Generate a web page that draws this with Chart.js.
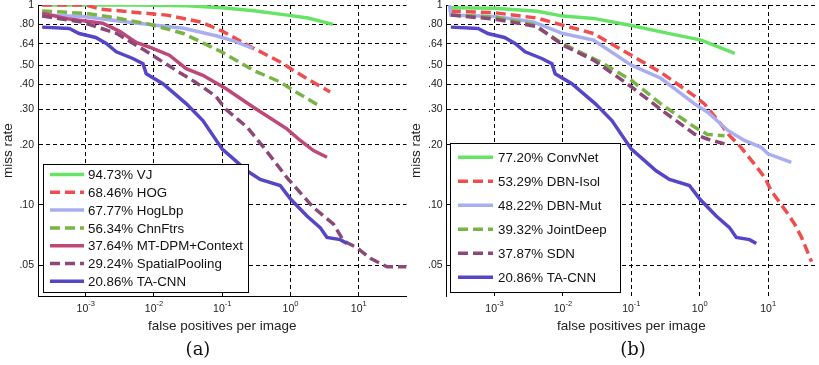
<!DOCTYPE html>
<html lang="en">
<head>
  <meta charset="UTF-8">
  <title>Miss rate vs false positives per image</title>
  <script src="https://cdn.jsdelivr.net/npm/chart.js"></script>
  <style>
    body {
      margin: 0;
      background: #fff;
      width: 819px;
      height: 365px;
      overflow: hidden;
      position: relative;
    }
    .panel {
      position: absolute;
      top: 0;
      height: 365px;
    }
    #panelA { left: 0; width: 410px; }
    #panelB { left: 408px; width: 411px; }
    .cap {
      position: absolute;
      top: 337px;
      width: 40px;
      line-height: 24px;
      text-align: center;
      font-family: "DejaVu Serif", serif;
      font-size: 18px;
      color: #111;
    }
  </style>
</head>
<body>

<div class="panel" id="panelA"><canvas id="chartA"></canvas></div>
<div class="panel" id="panelB"><canvas id="chartB"></canvas></div>
<div class="cap" style="left:178px">(a)</div>
<div class="cap" style="left:613px">(b)</div>

<script>
  // axis ticks
  const xTicks = [1e-3, 1e-2, 1e-1, 1, 10];
  const xTickExp = ["-3", "-2", "-1", "0", "1"];
  const yTicks = [0.05, 0.1, 0.2, 0.3, 0.4, 0.5, 0.64, 0.8, 1];
  const yTickLabels = [".05", ".10", ".20", ".30", ".40", ".50", ".64", ".80", "1"];

  // (a) legend names
  const namesA = ["94.73% VJ", "68.46% HOG", "67.77% HogLbp", "56.34% ChnFtrs",
                  "37.64% MT-DPM+Context", "29.24% SpatialPooling", "20.86% TA-CNN"];
  // (b) legend names
  const namesB = ["77.20% ConvNet", "53.29% DBN-Isol", "48.22% DBN-Mut",
                  "39.32% JointDeep", "37.87% SDN", "20.86% TA-CNN"];

  // curves, fppi and miss rate
  const vjFppi = [2.3e-4, 0.005, 0.03, 0.1, 0.29, 0.9, 1.8, 4.2];
  const vjMiss = [1.0, 1.0, 0.99, 0.97, 0.935, 0.89, 0.86, 0.80];

  const hogFppi = [2.3e-4, 1e-3, 1.6e-3, 5e-3, 0.0155, 0.03, 0.05, 0.1, 0.286, 0.706, 1.0, 1.74, 3.8];
  const hogMiss = [1.0, 1.0, 0.955, 0.92, 0.89, 0.85, 0.82, 0.74, 0.608, 0.519, 0.481, 0.428, 0.367];

  const hogLbpFppi = [2.3e-4, 9e-4, 5e-3, 0.027, 0.084, 0.15, 0.28];
  const hogLbpMiss = [0.89, 0.875, 0.815, 0.765, 0.70, 0.66, 0.606];

  const chnFppi = [2.3e-4, 1e-3, 2.85e-3, 8.8e-3, 0.027, 0.1, 0.286, 0.706, 1.1, 2.72];
  const chnMiss = [0.933, 0.908, 0.86, 0.80, 0.72, 0.58, 0.471, 0.412, 0.374, 0.311];

  const mtFppi = [2.3e-4, 5.7e-4, 1.77e-3, 3.1e-3, 5.5e-3, 9.6e-3, 0.0168, 0.0296, 0.052, 0.114, 0.286, 0.885, 1.39, 2.17, 3.42];
  const mtMiss = [0.91, 0.85, 0.81, 0.74, 0.65, 0.606, 0.561, 0.48, 0.445, 0.381, 0.308, 0.24, 0.21, 0.187, 0.173];

  const spFppi = [2.3e-4, 9e-4, 2.85e-3, 6.9e-3, 0.0236, 0.041, 0.08, 0.114, 0.23, 0.4, 0.885, 2.17, 4.27, 6.0, 9.4, 14.8, 25.9, 50];
  const spMiss = [0.88, 0.82, 0.72, 0.60, 0.46, 0.41, 0.35, 0.30, 0.245, 0.195, 0.137, 0.097, 0.08, 0.066, 0.061, 0.054, 0.049, 0.049];

  const taFppi = [2.3e-4, 5.75e-4, 8e-4, 1.4e-3, 2e-3, 2.8e-3, 4.9e-3, 6.9e-3, 7.7e-3, 0.0135, 0.0296, 0.052, 0.1, 0.146, 0.23, 0.36, 0.706, 1.0, 1.74, 2.72, 3.42, 5.36, 6.7];
  const taMiss = [0.775, 0.763, 0.72, 0.688, 0.642, 0.583, 0.54, 0.509, 0.453, 0.404, 0.321, 0.264, 0.19, 0.17, 0.148, 0.134, 0.125, 0.107, 0.088, 0.077, 0.0687, 0.067, 0.064];

  const convFppi = [2.3e-4, 1e-3, 4.2e-3, 0.01, 0.028, 0.1, 0.272, 1.05, 3.24];
  const convMiss = [0.97, 0.962, 0.93, 0.88, 0.857, 0.79, 0.734, 0.667, 0.572];

  const isolFppi = [2.3e-4, 1e-3, 4.2e-3, 9e-3, 0.028, 0.1, 0.27, 0.84, 1.17, 1.84, 2.6, 4.0, 6.3, 8.9, 11, 15.6, 19.5, 24.4, 30.6, 43];
  const isolMiss = [0.93, 0.915, 0.86, 0.80, 0.72, 0.56, 0.46, 0.35, 0.32, 0.265, 0.226, 0.194, 0.16, 0.137, 0.118, 0.10, 0.09, 0.08, 0.069, 0.052];

  const mutFppi = [2.2e-4, 2.3e-4, 1e-3, 3.6e-3, 0.01, 0.028, 0.1, 0.27, 0.84, 1.32, 2.6, 4.5, 7.9, 9.9, 21.8];
  const mutMiss = [1.0, 0.89, 0.875, 0.825, 0.72, 0.667, 0.50, 0.43, 0.32, 0.29, 0.235, 0.21, 0.194, 0.18, 0.163];

  const jdFppi = [2.3e-4, 1e-3, 3.6e-3, 0.01, 0.02, 0.035, 0.1, 0.27, 0.84, 1.3, 2.3];
  const jdMiss = [0.89, 0.87, 0.80, 0.64, 0.57, 0.52, 0.42, 0.32, 0.245, 0.225, 0.222];

  const sdnFppi = [2.3e-4, 1e-3, 4.2e-3, 0.01, 0.028, 0.1, 0.27, 0.84, 1.32, 2.3];
  const sdnMiss = [0.89, 0.85, 0.78, 0.63, 0.53, 0.39, 0.30, 0.226, 0.213, 0.202];

  // line styles
  const GREEN = "#66e466", RED = "#f04e4e", LAV = "#a9aef0", OLIVE = "#78b446";
  const ROSE = "#be4878", PURPLE = "#8c4878", BLUE = "#5546c8";
  const SANS = '"Liberation Sans", Arial, sans-serif';

  function makeSet(label, fppi, miss, color, dashed, i, n) {
    return {
      label,
      data: fppi.map((f, k) => ({ x: f, y: miss[k] })),
      borderColor: color,
      backgroundColor: color,
      borderWidth: 3.5,
      borderDash: dashed ? [10, 5] : [],
      pointRadius: 0,
      showLine: true,
      fill: false,
      tension: 0,
      order: n - i   // later curves on top
    };
  }

  // legend with a white box, drawn inside the plot
  const boxLegend = {
    id: "boxLegend",
    afterDatasetsDraw(chart, args, o) {
      const ctx = chart.ctx;
      ctx.save();
      ctx.fillStyle = "#fff";
      ctx.fillRect(o.left, o.top, o.width, o.height);
      ctx.strokeStyle = "#000";
      ctx.lineWidth = 1;
      ctx.strokeRect(o.left + 0.5, o.top + 0.5, o.width, o.height);
      ctx.font = o.font;
      ctx.textBaseline = "middle";
      chart.data.datasets.forEach((ds, i) => {
        const y = o.top + o.firstRow + i * o.rowGap;
        ctx.strokeStyle = ds.borderColor;
        ctx.lineWidth = ds.borderWidth;
        ctx.setLineDash(ds.borderDash);
        ctx.beginPath();
        ctx.moveTo(o.lineX0, y);
        ctx.lineTo(o.lineX1, y);
        ctx.stroke();
        ctx.setLineDash([]);
        ctx.fillStyle = "#111";
        ctx.fillText(ds.label, o.textX, y + 1);
      });
      ctx.restore();
    }
  };

  // x tick labels as 10 with a raised exponent
  const expTicks = {
    id: "expTicks",
    afterDraw(chart) {
      const sc = chart.scales.x, ctx = chart.ctx;
      ctx.save();
      ctx.fillStyle = "#222";
      ctx.textBaseline = "alphabetic";
      xTicks.forEach((v, i) => {
        const px = sc.getPixelForValue(v);
        const base = sc.top + 16;
        ctx.font = "10.5px " + SANS;
        const w1 = ctx.measureText("10").width;
        ctx.font = "7.5px " + SANS;
        const w2 = ctx.measureText(xTickExp[i]).width;
        const x0 = px - (w1 + w2) / 2;
        ctx.font = "10.5px " + SANS;
        ctx.fillText("10", x0, base);
        ctx.font = "7.5px " + SANS;
        ctx.fillText(xTickExp[i], x0 + w1, base - 6);
      });
      ctx.restore();
    }
  };

  function makeChart(id, datasets, yWidth, padRight, showBottom, legend) {
    new Chart(document.getElementById(id), {
      type: "scatter",
      data: { datasets },
      options: {
        responsive: true,
        maintainAspectRatio: false,
        animation: false,
        layout: { padding: { left: 0, top: 5, right: padRight, bottom: 30.5 } },
        plugins: {
          legend: { display: false },
          tooltip: { enabled: false },
          boxLegend: legend
        },
        scales: {
          x: {
            type: "logarithmic",
            min: 2e-4,
            max: 50,
            afterBuildTicks: s => { s.ticks = xTicks.map(v => ({ value: v })); },
            afterFit: s => { s.height = 38.5; s.paddingLeft = 0; s.paddingRight = 0; },
            ticks: { display: false, autoSkip: false },
            grid: { color: "#000", lineWidth: 1, drawTicks: false },
            border: { display: showBottom, color: "#000", width: 1, dash: [4, 3] },
            title: {
              display: true,
              text: "false positives per image",
              color: "#222",
              font: { family: SANS, size: 13.5 },
              padding: { top: 0, bottom: 0 }
            }
          },
          y: {
            type: "logarithmic",
            min: 0.035,
            max: 1,
            afterBuildTicks: s => { s.ticks = yTicks.map(v => ({ value: v })); },
            afterFit: s => { s.width = yWidth; s.paddingTop = 0; s.paddingBottom = 0; },
            ticks: {
              autoSkip: false,
              padding: 4,
              color: "#222",
              font: { family: SANS, size: 10.5 },
              callback: (v, i) => yTickLabels[i]
            },
            grid: { color: "#000", lineWidth: 1, drawTicks: false },
            border: { display: true, color: "#000", width: 1, dash: [4, 3] },
            title: {
              display: true,
              text: "miss rate",
              color: "#222",
              font: { family: SANS, size: 13.5 },
              padding: { top: 0, bottom: 0 }
            }
          }
        }
      },
      plugins: [boxLegend, expTicks]
    });
  }

  const setsA = [
    makeSet(namesA[0], vjFppi, vjMiss, GREEN, false, 0, 7),
    makeSet(namesA[1], hogFppi, hogMiss, RED, true, 1, 7),
    makeSet(namesA[2], hogLbpFppi, hogLbpMiss, LAV, false, 2, 7),
    makeSet(namesA[3], chnFppi, chnMiss, OLIVE, true, 3, 7),
    makeSet(namesA[4], mtFppi, mtMiss, ROSE, false, 4, 7),
    makeSet(namesA[5], spFppi, spMiss, PURPLE, true, 5, 7),
    makeSet(namesA[6], taFppi, taMiss, BLUE, false, 6, 7)
  ];

  const setsB = [
    makeSet(namesB[0], convFppi, convMiss, GREEN, false, 0, 6),
    makeSet(namesB[1], isolFppi, isolMiss, RED, true, 1, 6),
    makeSet(namesB[2], mutFppi, mutMiss, LAV, false, 2, 6),
    makeSet(namesB[3], jdFppi, jdMiss, OLIVE, true, 3, 6),
    makeSet(namesB[4], sdnFppi, sdnMiss, PURPLE, true, 4, 6),
    makeSet(namesB[5], taFppi, taMiss, BLUE, false, 5, 6)
  ];

  makeChart("chartA", setsA, 38, 3.5, true, {
    left: 43, top: 164, width: 205, height: 128,
    firstRow: 10.5, rowGap: 17.8, lineX0: 50, lineX1: 84, textX: 88,
    font: "13.3px " + SANS
  });

  makeChart("chartB", setsB, 38.7, 3, false, {
    left: 42, top: 143, width: 170, height: 149,
    firstRow: 14.3, rowGap: 24, lineX0: 50, lineX1: 85, textX: 90,
    font: "13.3px " + SANS
  });
</script>

</body>
</html>
